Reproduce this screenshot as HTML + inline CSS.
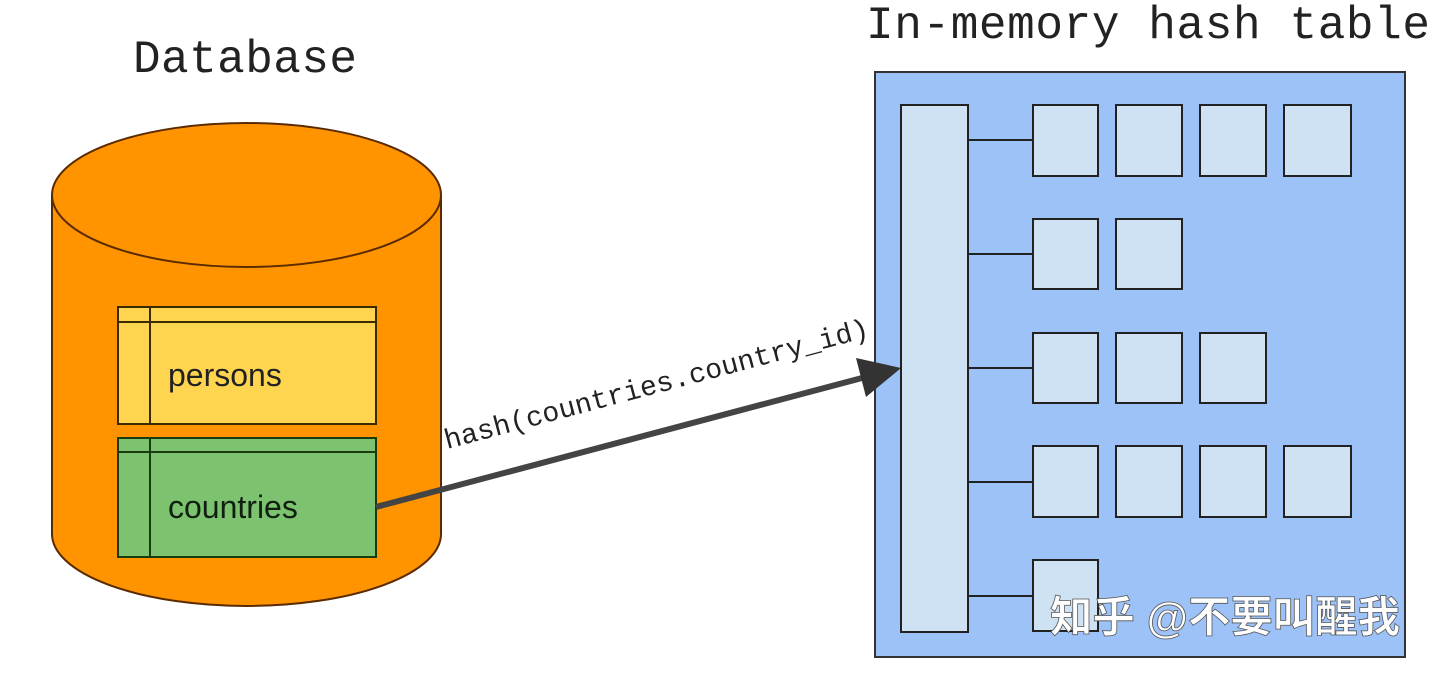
<!DOCTYPE html>
<html><head><meta charset="utf-8"><style>
html,body{margin:0;padding:0;background:#fff;width:1440px;height:675px;overflow:hidden}
</style></head><body>
<svg width="1440" height="675" viewBox="0 0 1440 675" xmlns="http://www.w3.org/2000/svg">
<text x="133" y="72" font-family="Liberation Mono, monospace" font-size="46" fill="#222" textLength="224">Database</text>
<text x="866" y="38" font-family="Liberation Mono, monospace" font-size="46" fill="#222" textLength="564">In-memory hash table</text>
<path d="M52,195 L52,534 A194.5,72 0 0 0 441,534 L441,195 Z" fill="#ff9400" stroke="#5a2a00" stroke-width="2"/>
<ellipse cx="246.5" cy="195" rx="194.5" ry="72" fill="#ff9400" stroke="#5a2a00" stroke-width="2"/>
<rect x="118" y="307" width="258" height="117" fill="#ffd54f" stroke="#3a2a00" stroke-width="2"/>
<line x1="118" y1="322" x2="376" y2="322" stroke="#3a2a00" stroke-width="2"/>
<line x1="150" y1="307" x2="150" y2="424" stroke="#3a2a00" stroke-width="2"/>
<text x="168" y="386" font-family="Liberation Sans, sans-serif" font-size="32" fill="#222">persons</text>
<rect x="118" y="438" width="258" height="119" fill="#7dc36f" stroke="#1a3a10" stroke-width="2"/>
<line x1="118" y1="452" x2="376" y2="452" stroke="#1a3a10" stroke-width="2"/>
<line x1="150" y1="438" x2="150" y2="557" stroke="#1a3a10" stroke-width="2"/>
<text x="168" y="518" font-family="Liberation Sans, sans-serif" font-size="32" fill="#102010">countries</text>
<rect x="875" y="72" width="530" height="585" fill="#9cc2f7" stroke="#333" stroke-width="2"/>
<rect x="901" y="105" width="67" height="527" fill="#cfe2f3" stroke="#222" stroke-width="2"/>
<g stroke="#222" stroke-width="2" fill="#cfe2f3">
<line x1="968" y1="140" x2="1033" y2="140"/><line x1="968" y1="254" x2="1033" y2="254"/>
<line x1="968" y1="368" x2="1033" y2="368"/><line x1="968" y1="482" x2="1033" y2="482"/>
<line x1="968" y1="596" x2="1033" y2="596"/>
<rect x="1033" y="105" width="65" height="71"/><rect x="1116" y="105" width="66" height="71"/><rect x="1200" y="105" width="66" height="71"/><rect x="1284" y="105" width="67" height="71"/>
<rect x="1033" y="219" width="65" height="70"/><rect x="1116" y="219" width="66" height="70"/>
<rect x="1033" y="333" width="65" height="70"/><rect x="1116" y="333" width="66" height="70"/><rect x="1200" y="333" width="66" height="70"/>
<rect x="1033" y="446" width="65" height="71"/><rect x="1116" y="446" width="66" height="71"/><rect x="1200" y="446" width="66" height="71"/><rect x="1284" y="446" width="67" height="71"/>
<rect x="1033" y="560" width="65" height="71"/>
</g>
<line x1="376" y1="507" x2="862" y2="378" stroke="#444" stroke-width="6"/>
<polygon points="901,368 856,358 866,397" fill="#333"/>
<text transform="translate(447,449) rotate(-14.9)" font-family="Liberation Mono, monospace" font-size="28" fill="#222" textLength="438" lengthAdjust="spacingAndGlyphs">hash(countries.country_id)</text>
<text x="1050" y="632" font-family="Liberation Sans, 'Noto Sans CJK SC', sans-serif" font-size="43" font-weight="bold" fill="#fff" stroke="#555" stroke-width="0.8" textLength="350" lengthAdjust="spacingAndGlyphs">知乎 @不要叫醒我</text>
</svg>
</body></html>
